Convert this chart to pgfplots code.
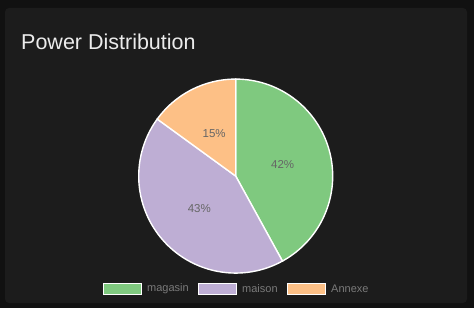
\documentclass[border=0pt]{standalone}
\usepackage{pgfplots}
\pgfplotsset{compat=1.18}
\usepackage{fontspec}
\setmainfont{Liberation Sans}
\definecolor{outerbg}{HTML}{111111}
\definecolor{cardbg}{HTML}{1C1C1C}
\definecolor{cgreen}{HTML}{7FC97F}
\definecolor{cpurple}{HTML}{BEAED4}
\definecolor{corange}{HTML}{FDC086}
\definecolor{labgray}{HTML}{666666}
\definecolor{leggray}{HTML}{7A7A7A}
% data (percent)
\def\vA{42}\def\vB{43}\def\vC{15}
\pgfmathsetmacro{\aA}{90}
\pgfmathsetmacro{\aB}{90-\vA*3.6}
\pgfmathsetmacro{\aC}{\aB-\vB*3.6}
\pgfmathsetmacro{\aD}{\aC-\vC*3.6}
\pgfmathsetmacro{\mA}{(\aA+\aB)/2}
\pgfmathsetmacro{\mB}{(\aB+\aC)/2}
\pgfmathsetmacro{\mC}{(\aC+\aD)/2}
\begin{document}
\begin{tikzpicture}[x=1pt,y=1pt]
\fill[outerbg] (0,0) rectangle (474,308);
\fill[cardbg,rounded corners=4pt] (5,5) rectangle (467,300);
\node[anchor=base west,inner sep=0pt,text=white!92!black,font=\fontsize{21.5}{24}\selectfont] at (21,258) {Power Distribution};
\begin{axis}[
  at={(243,136)}, anchor=center,
  width=194pt, height=194pt, scale only axis,
  xmin=-1, xmax=1, ymin=-1, ymax=1,
  axis equal image, hide axis, clip=false,
]
\addplot[fill=cgreen, draw=white, line width=1.4pt, domain=\aB:\aA, samples=80, variable=\t] ({cos(\t)},{sin(\t)}) -- (axis cs:0,0) -- cycle;
\addplot[fill=cpurple, draw=white, line width=1.4pt, domain=\aC:\aB, samples=80, variable=\t] ({cos(\t)},{sin(\t)}) -- (axis cs:0,0) -- cycle;
\addplot[fill=corange, draw=white, line width=1.4pt, domain=\aD:\aC, samples=40, variable=\t] ({cos(\t)},{sin(\t)}) -- (axis cs:0,0) -- cycle;
\node[text=labgray,font=\fontsize{11.5}{13}\selectfont] at (axis cs:{0.5*cos(\mA)},{0.5*sin(\mA)}) {\vA\%};
\node[text=labgray,font=\fontsize{11.5}{13}\selectfont] at (axis cs:{0.5*cos(\mB)},{0.5*sin(\mB)}) {\vB\%};
\node[text=labgray,font=\fontsize{11.5}{13}\selectfont] at (axis cs:{0.49*cos(\mC)},{0.49*sin(\mC)}) {\vC\%};
\end{axis}
% legend
\begin{scope}[font=\fontsize{11}{13}\selectfont]
\filldraw[fill=cgreen,draw=white,line width=1pt] (103.5,13.5) rectangle (141,24.5);
\node[anchor=west,text=leggray,inner sep=0pt] at (147,19) {magasin};
\filldraw[fill=cpurple,draw=white,line width=1pt] (198.5,13.5) rectangle (236,24.5);
\node[anchor=west,text=leggray,inner sep=0pt] at (242,19) {maison};
\filldraw[fill=corange,draw=white,line width=1pt] (287.5,13.5) rectangle (325,24.5);
\node[anchor=west,text=leggray,inner sep=0pt] at (331,19) {Annexe};
\end{scope}
\end{tikzpicture}
\end{document}
